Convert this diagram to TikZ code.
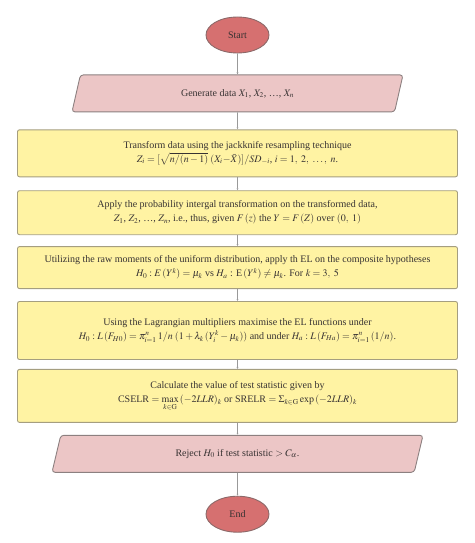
\documentclass[tikz,border=0pt]{standalone}
\usepackage{amsmath,amssymb}
\usepackage{mathptmx}
\usepackage{fontspec}
\setmainfont{Liberation Serif}
\usepackage{tikz}
\usetikzlibrary{positioning,arrows.meta,shapes.geometric}
\usepackage{xcolor}
\definecolor{termfill}{RGB}{214,112,112}
\definecolor{termdraw}{RGB}{140,105,105}
\definecolor{iofill}{RGB}{236,198,198}
\definecolor{iodraw}{RGB}{140,128,128}
\definecolor{procfill}{RGB}{255,243,163}
\definecolor{procdraw}{RGB}{165,158,128}
\definecolor{txt}{RGB}{55,50,50}

\begin{document}
\begin{tikzpicture}[
  x=1pt, y=-1pt,
  base/.style={draw, line width=0.9pt, text=txt, font=\fontsize{10}{14}\selectfont, align=center},
  term/.style={base, ellipse, fill=termfill, draw=termdraw, minimum width=63pt, minimum height=36pt, inner sep=0pt},
  io/.style={base, trapezium, trapezium left angle=61, trapezium right angle=119, trapezium stretches body,
             rounded corners=3pt, fill=iofill, draw=iodraw, minimum height=37pt},
  proc/.style={base, rectangle, rounded corners=2pt, fill=procfill, draw=procdraw, minimum width=440pt},
  line/.style={draw=gray!80, line width=0.8pt, -{Latex[length=2pt,width=2pt]}}
]
\useasboundingbox (0,0) rectangle (474,543);
\node[term] (start) at (237.5,35) {Start};
\node[io, minimum width=331pt, below=21pt of start] (gen) {Generate data $X_1$, $X_2$, \dots, $X_n$};
\node[proc, minimum height=47pt, below=17pt of gen] (jack) {Transform data using the jackknife resampling technique\\
  $Z_i = [\sqrt{n/(n-1)}\;(X_i{-}\bar{X})]/SD_{-i}$, $i = 1,\ 2,\ \ldots,\ n$.};
\node[proc, minimum height=44pt, below=13pt of jack] (pit) {Apply the probability intergal transformation on the transformed data,\\
  $Z_1$, $Z_2$, \dots, $Z_n$, i.e., thus, given $F\,(z)$ the $Y = F\,(Z)$ over $(0,\ 1)$};
\node[proc, minimum height=42pt, below=11pt of pit] (hyp) {Utilizing the raw moments of the uniform distribution, apply th EL on the composite hypotheses\\
  $H_0 : E\,(Y^k) = \mu_k$ vs $H_a$ : E$\,(Y^k) \neq \mu_k$. For $k = 3,\ 5$};
\node[proc, minimum height=58pt, below=12pt of hyp] (lag) {Using the Lagrangian multipliers maximise the EL functions under\\
  $H_0 : L\,(F_{H0}) = \pi_{i=1}^{n}\, 1/n\; (1 + \lambda_k\,(Y_i^k - \mu_k))$ and under $H_a : L\,(F_{Ha}) = \pi_{i=1}^{n}\,(1/n)$.};
\node[proc, minimum height=53pt, below=9pt of lag] (stat) {Calculate the value of test statistic given by\\
  CSELR $= \max\limits_{k\in\mathrm{G}}\,(-2LLR)_k$ or SRELR $= \Sigma_{k\in\mathrm{G}} \exp\,(-2LLR)_k$};
\node[io, minimum width=371pt, below=12pt of stat] (rej) {Reject $H_0$ if test statistic $> C_{\alpha}$.};
\node[term, below=23pt of rej] (end) {End};
\draw[line] (start) -- (gen);
\draw[line] (gen) -- (jack);
\draw[line] (jack) -- (pit);
\draw[line] (pit) -- (hyp);
\draw[line] (hyp) -- (lag);
\draw[line] (lag) -- (stat);
\draw[line] (stat) -- (rej);
\draw[line] (rej) -- (end);
\end{tikzpicture}
\end{document}
